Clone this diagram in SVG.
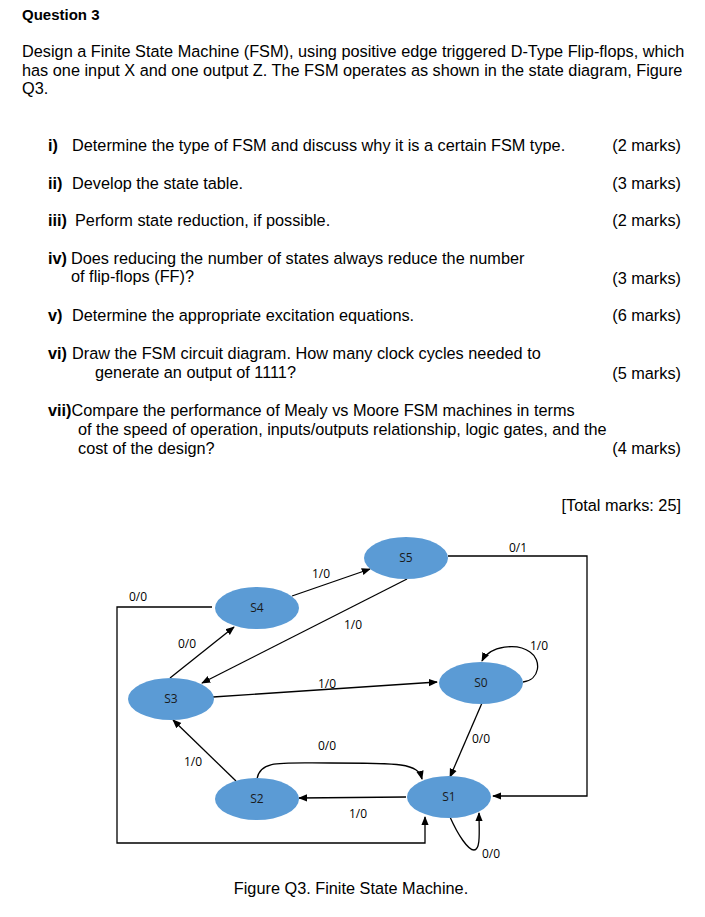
<svg xmlns="http://www.w3.org/2000/svg" width="705" height="917" viewBox="0 0 705 917">
<style>
text{font-family:"Liberation Sans",Arial,sans-serif;font-size:16.3px;fill:#000}
.b{font-weight:bold}
.r{text-anchor:end}
.st{fill:#5b9bd5}
.sl{font-family:"Open Sans","Liberation Sans",sans-serif;font-size:12px;text-anchor:middle}
.nl{font-family:"Open Sans","Liberation Sans",sans-serif;font-size:12px;text-anchor:middle;fill:#1a1a1a}
.e{fill:none;stroke:#000;stroke-width:1.3;marker-end:url(#a)}
</style>
<defs><marker id="a" viewBox="0 0 10 10" refX="9" refY="5" markerWidth="7" markerHeight="7" orient="auto"><path d="M0,1 L10,5 L0,9 z" fill="#000"/></marker></defs>
<rect width="705" height="917" fill="#fff"/>
<text x="22" y="20" class="b" style="font-size:15px">Question 3</text>
<text x="22" y="57">Design a Finite State Machine (FSM), using positive edge triggered D-Type Flip-flops, which</text>
<text x="22" y="76">has one input X and one output Z. The FSM operates as shown in the state diagram, Figure</text>
<text x="22" y="94">Q3.</text>
<text x="48" y="151" class="b">i)</text><text x="72" y="151">Determine the type of FSM and discuss why it is a certain FSM type.</text>
<text x="681" y="151" class="r">(2 marks)</text>
<text x="48" y="189" class="b">ii)</text><text x="72" y="189">Develop the state table.</text>
<text x="681" y="189" class="r">(3 marks)</text>
<text x="48" y="226" class="b">iii)</text><text x="75" y="226">Perform state reduction, if possible.</text>
<text x="681" y="226" class="r">(2 marks)</text>
<text x="48" y="264" class="b">iv)</text><text x="71" y="264">Does reducing the number of states always reduce the number</text>
<text x="71" y="282">of flip-flops (FF)?</text>
<text x="681" y="284" class="r">(3 marks)</text>
<text x="48" y="321" class="b">v)</text><text x="72" y="321">Determine the appropriate excitation equations.</text>
<text x="681" y="321" class="r">(6 marks)</text>
<text x="48" y="359" class="b">vi)</text><text x="72" y="359">Draw the FSM circuit diagram. How many clock cycles needed to</text>
<text x="95" y="378">generate an output of 1111?</text>
<text x="681" y="379" class="r">(5 marks)</text>
<text x="48" y="416"><tspan class="b">vii)</tspan>Compare the performance of Mealy vs Moore FSM machines in terms</text>
<text x="78" y="435">of the speed of operation, inputs/outputs relationship, logic gates, and the</text>
<text x="78" y="454">cost of the design?</text>
<text x="681" y="454" class="r">(4 marks)</text>
<text x="681" y="511" class="r">[Total marks: 25]</text>
<g id="connectors">
<path class="e" d="M292,596 L370,569"/>
<path class="e" d="M407,579 L202,683"/>
<path class="e" d="M170,678 L234,627"/>
<path class="e" d="M213,697 L437,682"/>
<path class="e" d="M523,682 C540,680 542,660 530,652 C518,643 490,645 482,661"/>
<path class="e" d="M482,703 L450,777"/>
<path class="e" d="M257,779 C260,760 280,763 330,763 C400,763 418,763 422,779"/>
<path class="e" d="M406,797 L299,798"/>
<path class="e" d="M236,781 L173,720"/>
<path class="e" d="M212,607 L117,607 L117,843 L425,843 L425,817"/>
<path class="e" d="M448,556 L587,556 L587,796 L493,796"/>
<path class="e" d="M450,817 C458,835 468,850 474,850 C481,850 479,830 479,813"/>
<text class="sl" x="321" y="578">1/0</text>
<text class="sl" x="353" y="629">1/0</text>
<text class="sl" x="187" y="648">0/0</text>
<text class="sl" x="327" y="688">1/0</text>
<text class="sl" x="539" y="650">1/0</text>
<text class="sl" x="481" y="743">0/0</text>
<text class="sl" x="327" y="750">0/0</text>
<text class="sl" x="358" y="818">1/0</text>
<text class="sl" x="193" y="766">1/0</text>
<text class="sl" x="138" y="601">0/0</text>
<text class="sl" x="518" y="552">0/1</text>
<text class="sl" x="491" y="858">0/0</text>
</g>
<g id="S5"><ellipse class="st" cx="406" cy="558" rx="42" ry="21"/><text class="nl" x="406" y="562">S5</text></g>
<g id="S4"><ellipse class="st" cx="257" cy="608" rx="42" ry="21"/><text class="nl" x="257" y="612">S4</text></g>
<g id="S3"><ellipse class="st" cx="171" cy="699" rx="43" ry="21"/><text class="nl" x="171" y="703">S3</text></g>
<g id="S0"><ellipse class="st" cx="481" cy="683" rx="42" ry="21"/><text class="nl" x="481" y="687">S0</text></g>
<g id="S1"><ellipse class="st" cx="449" cy="797" rx="42" ry="21"/><text class="nl" x="449" y="801">S1</text></g>
<g id="S2"><ellipse class="st" cx="257" cy="799" rx="42" ry="21"/><text class="nl" x="257" y="803">S2</text></g>
<text x="351" y="894" style="text-anchor:middle">Figure Q3. Finite State Machine.</text>
</svg>
